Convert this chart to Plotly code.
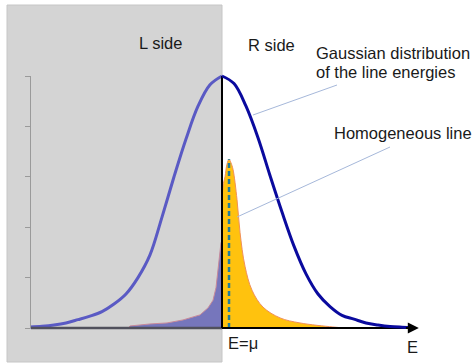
import plotly.graph_objects as go

# ---- data (energy in units of the Gaussian width, line centre at 0) ----
gauss_E_left = [-4.0, -3.75, -3.5, -3.25, -3.0, -2.75, -2.5, -2.25, -2.0, -1.75,
                -1.5, -1.25, -1.0, -0.75, -0.5, -0.25, 0.0]
gauss_I_left = [0.004, 0.007, 0.012, 0.02, 0.033, 0.047, 0.065, 0.095, 0.135, 0.2,
                0.29, 0.44, 0.6, 0.75, 0.88, 0.965, 1.0]
gauss_E_right = [0.0, 0.25, 0.5, 0.75, 1.0, 1.25, 1.5, 1.75, 2.0, 2.25, 2.5, 2.75,
                 3.0, 3.25, 3.5, 3.75, 4.0]
gauss_I_right = [1.0, 0.97, 0.88, 0.755, 0.605, 0.46, 0.325, 0.215, 0.135, 0.085,
                 0.05, 0.035, 0.02, 0.012, 0.006, 0.003, 0.001]

lside_E = [-1.95, -1.917, -1.5, -1.146, -0.8125, -0.458, -0.29, -0.1875, -0.125,
           -0.0625, -0.02, 0.0]
lside_I = [0.0, 0.008, 0.016, 0.02, 0.032, 0.052, 0.08, 0.11, 0.16, 0.26, 0.34, 0.34]

rside_E = [0.0, 0.02, 0.0625, 0.104, 0.146, 0.1875, 0.229, 0.3125, 0.375, 0.479,
           0.625, 0.854, 1.21, 1.625, 2.31, 2.56]
rside_I = [0.0, 0.56, 0.6, 0.65, 0.67, 0.655, 0.63, 0.51, 0.38, 0.245,
           0.15, 0.083, 0.04, 0.02, 0.004, 0.0]

mu_E = 0.146
mu_I = 0.67
axis_E_start = -3.98
axis_E_end = 4.10
ytick_vals = [0, 0.2, 0.4, 0.6, 0.8, 1.0]

label_L = "L side"
label_R = "R side"
label_gauss = ["Gaussian distribution", "of the line energies"]
label_homog = "Homogeneous line"
label_mu = "E=μ"
label_E = "E"

W, H = 474, 364
x_range = [-4.625, 5.25]
y_range = [-0.1429, 1.3016]

FONT = "Liberation Sans, Arial, sans-serif"
TXT = "#1a1a1a"

fig = go.Figure()

# L side homogeneous line (purple)
fig.add_trace(go.Scatter(x=lside_E, y=lside_I, mode="lines", fill="tozeroy",
                         fillcolor="#7676bc", line=dict(color="#c88a9a", width=1),
                         hoverinfo="skip"))
# Gaussian, left half
fig.add_trace(go.Scatter(x=gauss_E_left, y=gauss_I_left, mode="lines",
                         line=dict(color="#5a5ac4", width=3, shape="spline"),
                         hoverinfo="skip"))
# baseline on the left side
fig.add_trace(go.Scatter(x=[axis_E_start, 0], y=[0, 0], mode="lines",
                         line=dict(color="#50505c", width=2.5), hoverinfo="skip"))
# R side homogeneous line (yellow)
fig.add_trace(go.Scatter(x=rside_E, y=rside_I, mode="lines", fill="tozeroy",
                         fillcolor="#ffc20e", line=dict(color="#f0905a", width=1, shape="spline"),
                         hoverinfo="skip"))
# E = mu dashed line
fig.add_trace(go.Scatter(x=[mu_E, mu_E], y=[0, mu_I], mode="lines",
                         line=dict(color="#1f7c9c", width=2.5, dash="5px,3px"),
                         hoverinfo="skip"))
# black axis on the right + vertical separator
fig.add_trace(go.Scatter(x=[0, axis_E_end - 0.1], y=[0, 0], mode="lines",
                         line=dict(color="black", width=2), hoverinfo="skip"))
fig.add_trace(go.Scatter(x=[0, 0], y=[0, 1.0], mode="lines",
                         line=dict(color="black", width=2), hoverinfo="skip"))
# Gaussian, right half
fig.add_trace(go.Scatter(x=gauss_E_right, y=gauss_I_right, mode="lines",
                         line=dict(color="#0a0a9e", width=3, shape="spline"),
                         hoverinfo="skip"))
# invisible trace on the tick-axis subplot
fig.add_trace(go.Scatter(x=[0], y=[0], xaxis="x2", yaxis="y2", mode="markers",
                         marker=dict(opacity=0), hoverinfo="skip"))

def px_x(px):
    return px / W

def px_y(py):
    return 1 - py / H

shapes = [
    dict(type="rect", xref="paper", yref="paper", x0=px_x(7), x1=px_x(222),
         y0=px_y(362), y1=px_y(5), fillcolor="#d4d4d4",
         line=dict(color="#c6c6c6", width=1), layer="below"),
    dict(type="line", xref="paper", yref="paper", x0=px_x(337), y0=px_y(85),
         x1=px_x(253), y1=px_y(115), line=dict(color="#a6b8da", width=1)),
    dict(type="line", xref="paper", yref="paper", x0=px_x(390), y0=px_y(147),
         x1=px_x(237), y1=px_y(217), line=dict(color="#a6b8da", width=1)),
]

fs = 16.5
annotations = [
    dict(x=axis_E_end, y=0, ax=axis_E_end - 0.3, ay=0, xref="x", yref="y",
         axref="x", ayref="y", text="", showarrow=True, arrowhead=2,
         arrowsize=1.1, arrowwidth=2, arrowcolor="black"),
    dict(x=px_x(160), y=px_y(43), xref="paper", yref="paper", text=label_L,
         showarrow=False, xanchor="center", yanchor="middle",
         font=dict(family=FONT, size=fs, color=TXT)),
    dict(x=px_x(271), y=px_y(45), xref="paper", yref="paper", text=label_R,
         showarrow=False, xanchor="center", yanchor="middle",
         font=dict(family=FONT, size=fs, color=TXT)),
    dict(x=px_x(314), y=px_y(53), xref="paper", yref="paper", text=label_gauss[0],
         showarrow=False, xanchor="left", yanchor="middle",
         font=dict(family=FONT, size=fs, color=TXT)),
    dict(x=px_x(314), y=px_y(72), xref="paper", yref="paper", text=label_gauss[1],
         showarrow=False, xanchor="left", yanchor="middle",
         font=dict(family=FONT, size=fs, color=TXT)),
    dict(x=px_x(332), y=px_y(133), xref="paper", yref="paper", text=label_homog,
         showarrow=False, xanchor="left", yanchor="middle",
         font=dict(family=FONT, size=fs, color=TXT)),
    dict(x=px_x(226), y=px_y(343), xref="paper", yref="paper", text=label_mu,
         showarrow=False, xanchor="left", yanchor="middle",
         font=dict(family=FONT, size=fs, color=TXT)),
    dict(x=px_x(412), y=px_y(347), xref="paper", yref="paper", text=label_E,
         showarrow=False, xanchor="center", yanchor="middle",
         font=dict(family=FONT, size=fs, color=TXT)),
]

fig.update_layout(
    width=W, height=H, margin=dict(l=0, r=0, t=0, b=0),
    paper_bgcolor="white", plot_bgcolor="rgba(0,0,0,0)",
    showlegend=False,
    xaxis=dict(range=x_range, visible=False, domain=[0, 1]),
    yaxis=dict(range=y_range, visible=False, domain=[0, 1]),
    xaxis2=dict(domain=[px_x(31), px_x(222)], range=[0, 1], visible=False,
                anchor="y2"),
    yaxis2=dict(domain=[px_y(328), px_y(76)], range=[0, 1], anchor="x2",
                showline=True, linecolor="#9a9a9a", linewidth=1,
                ticks="outside", ticklen=5, tickcolor="#9a9a9a",
                tickvals=ytick_vals, showticklabels=False,
                showgrid=False, zeroline=False),
    shapes=shapes,
    annotations=annotations,
)

fig.write_html("out.html", config={"displayModeBar": False},
               post_script="document.body.style.margin='0';document.body.style.overflow='hidden';")
